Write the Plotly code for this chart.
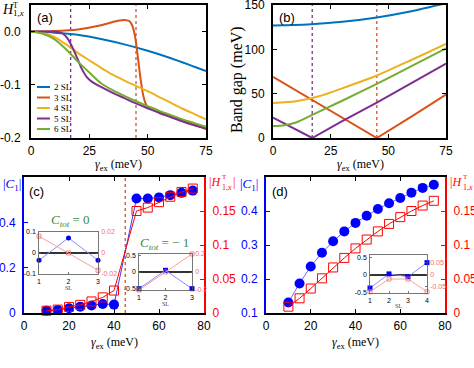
import plotly.graph_objects as go

W, H = 474, 368
def px(x): return x / W
def py(y): return 1 - y / H

SERIF = "Liberation Serif, Times New Roman, serif"
SANS = "Liberation Sans, Arial, sans-serif"

# ---------------- data ----------------
sl_names = ["2 SL", "3 SL", "4 SL", "5 SL", "6 SL"]
sl_colors = ["#0072BD", "#D95319", "#EDB120", "#7E2F8E", "#77AC30"]

# panel (a): H^T_{1,x} vs gamma_ex
a_x_2 = [0, 10, 20, 30, 40, 50, 60, 70, 75]
a_y_2 = [0, -0.002, -0.006, -0.014, -0.024, -0.036, -0.050, -0.066, -0.074]
a_x_3 = [0, 10, 20, 30, 35, 38, 40, 42, 43, 44, 45, 46, 47, 48, 49, 50, 52, 55, 60, 65, 70, 75]
a_y_3 = [0, 0.001, 0.004, 0.012, 0.018, 0.021, 0.022, 0.020, 0.015, 0.003, -0.020, -0.055,
         -0.090, -0.118, -0.134, -0.142, -0.147, -0.151, -0.159, -0.167, -0.175, -0.183]
a_x_4 = [0, 5, 10, 15, 20, 25, 30, 35, 40, 45, 50, 55, 60, 65, 70, 75]
a_y_4 = [0, -0.002, -0.010, -0.024, -0.040, -0.054, -0.068, -0.081, -0.092, -0.102,
         -0.112, -0.123, -0.134, -0.145, -0.155, -0.165]
a_x_5 = [0, 10, 12, 14, 16, 18, 20, 22, 24, 26, 30, 35, 40, 45, 50, 55, 60, 65, 70, 75]
a_y_5 = [0, 0, -0.001, -0.005, -0.015, -0.032, -0.052, -0.072, -0.086, -0.094, -0.104,
         -0.115, -0.125, -0.135, -0.144, -0.153, -0.161, -0.169, -0.176, -0.182]
a_x_6 = [0, 5, 10, 15, 20, 25, 30, 35, 40, 45, 50, 55, 60, 65, 70, 75]
a_y_6 = [0, -0.004, -0.014, -0.033, -0.056, -0.077, -0.097, -0.110, -0.121, -0.131,
         -0.140, -0.149, -0.157, -0.165, -0.172, -0.179]
a_xs = [a_x_2, a_x_3, a_x_4, a_x_5, a_x_6]
a_ys = [a_y_2, a_y_3, a_y_4, a_y_5, a_y_6]

# panel (b): band gap (meV)
b_x_2 = [0, 15, 30, 45, 60, 75]
b_y_2 = [127, 128, 131, 136, 143, 152]
b_x_3 = [0, 15, 30, 45, 60, 75]
b_y_3 = [69, 46, 23, 0, 24, 49]
b_x_4 = [0, 10, 20, 30, 45, 60, 75]
b_y_4 = [39.5, 41.5, 47, 56, 70.5, 88, 106]
b_x_5 = [0, 17, 30, 45, 60, 75]
b_y_5 = [23, 0, 19, 40, 62, 84]
b_x_6 = [0, 5, 10, 17, 25, 30, 45, 60, 75]
b_y_6 = [13.5, 14.5, 17.5, 26, 36, 42, 61, 81, 101]
b_xs = [b_x_2, b_x_3, b_x_4, b_x_5, b_x_6]
b_ys = [b_y_2, b_y_3, b_y_4, b_y_5, b_y_6]
b_shapes = ["spline", "linear", "spline", "linear", "spline"]

# transition lines (meV)
trans_x = [17, 45]
trans_colors = ["#7E2F8E", "#D95319"]

# panel (c): 3 SL
c_x = [10, 15, 20, 25, 30, 35, 40, 50, 55, 60, 65, 70, 75]
c_C = [0.010, 0.013, 0.021, 0.028, 0.033, 0.040, 0.037, 0.505, 0.505, 0.510, 0.520, 0.530, 0.540]
c_H = [0.0034, 0.005, 0.009, 0.012, 0.017, 0.023, 0.033, 0.150, 0.155, 0.163, 0.171, 0.178, 0.183]

# panel (d): 4 SL
d_x = [10, 15, 20, 25, 30, 35, 40, 45, 50, 55, 60, 65, 70, 75]
d_C = [0.131, 0.187, 0.237, 0.277, 0.311, 0.340, 0.365, 0.386, 0.406, 0.423, 0.438, 0.454, 0.468, 0.477]
d_H = [0.0093, 0.0216, 0.036, 0.051, 0.067, 0.081, 0.095, 0.108, 0.120, 0.131, 0.141, 0.150, 0.158, 0.165]

# insets
i1_sl = [1, 2, 3]
i1_C = [-0.035, 0.072, -0.035]
i1_H = [0.016, 0.0, -0.0165]
i2_sl = [1, 2, 3]
i2_C = [-0.50, 0.05, -0.50]
i2_H = [-0.20, 0.0, 0.20]
i3_sl = [1, 2, 3, 4]
i3_C = [-0.37, 0.03, -0.05, 0.35]
i3_H = [-0.070, -0.018, -0.018, -0.070]

BLUE = "#0000ff"
RED = "#ff0000"
PINK = "#f07070"
GREEN = "#3a8a3a"

fig = go.Figure()

# ---- (a)
for name, xs, ys, col in zip(sl_names, a_xs, a_ys, sl_colors):
    fig.add_trace(go.Scatter(x=xs, y=ys, mode="lines", name=name,
                             line=dict(color=col, width=2, shape="spline", smoothing=0.7),
                             xaxis="x", yaxis="y", showlegend=False))
# ---- (b)
for name, xs, ys, col, sh in zip(sl_names, b_xs, b_ys, sl_colors, b_shapes):
    fig.add_trace(go.Scatter(x=xs, y=ys, mode="lines", name=name,
                             line=dict(color=col, width=2, shape=sh, smoothing=0.7),
                             xaxis="x2", yaxis="y2", showlegend=False))
# ---- (c)
fig.add_trace(go.Scatter(x=c_x, y=c_C, mode="lines+markers", xaxis="x3", yaxis="y3",
                         line=dict(color="#3a3aff", width=1),
                         marker=dict(color=BLUE, size=10, symbol="circle"),
                         showlegend=False, cliponaxis=False))
fig.add_trace(go.Scatter(x=c_x, y=c_H, mode="lines+markers", xaxis="x3", yaxis="y4",
                         line=dict(color=RED, width=1),
                         marker=dict(color=RED, size=9, symbol="square-open",
                                     line=dict(color=RED, width=1)),
                         showlegend=False, cliponaxis=False))
# ---- (d)
fig.add_trace(go.Scatter(x=d_x, y=d_C, mode="lines+markers", xaxis="x4", yaxis="y5",
                         line=dict(color="#6a6aff", width=1),
                         marker=dict(color=BLUE, size=10, symbol="circle"),
                         showlegend=False, cliponaxis=False))
fig.add_trace(go.Scatter(x=d_x, y=d_H, mode="lines+markers", xaxis="x4", yaxis="y6",
                         line=dict(color=RED, width=1),
                         marker=dict(color=RED, size=9, symbol="square-open",
                                     line=dict(color=RED, width=1)),
                         showlegend=False, cliponaxis=False))

# ---- insets
def inset(xa, ya_l, ya_r, sl, C, Hh, bsym):
    fig.add_trace(go.Scatter(x=sl, y=C, mode="lines+markers", xaxis=xa, yaxis=ya_l,
                             line=dict(color="#8c8cff", width=1),
                             marker=dict(color=BLUE, size=5, symbol=bsym),
                             showlegend=False, cliponaxis=False))
    fig.add_trace(go.Scatter(x=sl, y=Hh, mode="lines+markers", xaxis=xa, yaxis=ya_r,
                             line=dict(color="#f4a0a0", width=1),
                             marker=dict(color=PINK, size=4, symbol="square-open",
                                         line=dict(color=PINK, width=0.8)),
                             showlegend=False, cliponaxis=False))

inset("x5", "y7", "y8", i1_sl, i1_C, i1_H, "circle")
inset("x6", "y9", "y10", i2_sl, i2_C, i2_H, "square")
inset("x7", "y11", "y12", i3_sl, i3_C, i3_H, "square")

# ---------------- axes ----------------
def main_axis(**kw):
    d = dict(showgrid=False, zeroline=False, ticks="inside", ticklen=4, tickwidth=1,
             showline=True, linewidth=2, linecolor="black", tickcolor="black", automargin=False,
             ticklabeloverflow="allow",
             tickfont=dict(family=SANS, size=12, color="black"))
    d.update(kw)
    return d

def inset_axis(**kw):
    d = dict(showgrid=False, zeroline=False, ticks="inside", ticklen=2, tickwidth=0.8,
             showline=True, linewidth=0.8, linecolor="#555", tickcolor="#555", automargin=False,
             ticklabeloverflow="allow",
             tickfont=dict(family=SANS, size=7, color="black"), ticklabelstandoff=1)
    d.update(kw)
    return d

lay = dict(
    xaxis=main_axis(domain=[px(31), px(206)], anchor="y", range=[0, 75], tickvals=[0, 25, 50, 75],
                    mirror="ticks", ticklabelstandoff=1),
    yaxis=main_axis(domain=[py(138), py(5)], anchor="x", range=[-0.2, 0.05],
                    tickvals=[-0.2, -0.1, 0], ticktext=["-0.2", "-0.1", "0.0"], mirror="ticks",
                    ticklabelstandoff=6),
    xaxis2=main_axis(domain=[px(273), px(446)], anchor="y2", range=[0, 75], tickvals=[0, 25, 50, 75],
                     mirror="ticks", ticklabelstandoff=1),
    yaxis2=main_axis(domain=[py(138), py(5)], anchor="x2", range=[0, 150],
                     tickvals=[0, 50, 100, 150], mirror="ticks", ticklabelstandoff=4),
    xaxis3=main_axis(domain=[px(24), px(204)], anchor="y3", range=[0, 80],
                     tickvals=[0, 20, 40, 60, 80], mirror="ticks", ticklabelstandoff=1),
    yaxis3=main_axis(domain=[py(313), py(177)], anchor="x3", range=[0, 0.6],
                     tickvals=[0, 0.2, 0.4], ticktext=["0", "0.2", "0.4"],
                     linecolor=BLUE, tickcolor=BLUE,
                     tickfont=dict(family=SANS, size=12, color=BLUE), ticklabelstandoff=4),
    yaxis4=main_axis(overlaying="y3", side="right", anchor="x3", range=[0, 0.2],
                     tickvals=[0, 0.05, 0.1, 0.15], ticktext=["0", "0.05", "0.1", "0.15"],
                     linecolor=RED, tickcolor=RED,
                     tickfont=dict(family=SANS, size=12, color=RED), ticklabelstandoff=4),
    xaxis4=main_axis(domain=[px(266), px(445)], anchor="y5", range=[0, 80],
                     tickvals=[0, 20, 40, 60, 80], mirror="ticks", ticklabelstandoff=1),
    yaxis5=main_axis(domain=[py(313), py(177)], anchor="x4", range=[0.1, 0.5],
                     tickvals=[0.1, 0.2, 0.3, 0.4], linecolor=BLUE, tickcolor=BLUE,
                     tickfont=dict(family=SANS, size=12, color=BLUE), ticklabelstandoff=4),
    yaxis6=main_axis(overlaying="y5", side="right", anchor="x4", range=[0, 0.2],
                     tickvals=[0, 0.05, 0.1, 0.15], ticktext=["0", "0.05", "0.1", "0.15"],
                     linecolor=RED, tickcolor=RED,
                     tickfont=dict(family=SANS, size=12, color=RED), ticklabelstandoff=4),
    # inset c1
    xaxis5=inset_axis(domain=[px(39), px(98)], anchor="y7", range=[1, 3], tickvals=[1, 2, 3],
                      mirror=True, title=dict(text="SL", font=dict(family=SERIF, size=6), standoff=0)),
    yaxis7=inset_axis(domain=[py(274), py(232)], anchor="x5", range=[-0.1, 0.1],
                      tickvals=[-0.1, 0, 0.1], ticktext=["-0.1", "0", "0.1"],
                      zeroline=True, zerolinecolor="#333", zerolinewidth=1.5),
    yaxis8=inset_axis(overlaying="y7", side="right", anchor="x5", range=[-0.02, 0.02],
                      tickvals=[-0.02, 0, 0.02], ticktext=["-0.02", "0", "0.02"],
                      tickfont=dict(family=SANS, size=7, color=PINK)),
    # inset c2
    xaxis6=inset_axis(domain=[px(139), px(192)], anchor="y9", range=[1, 3], tickvals=[1, 2, 3],
                      mirror=True, title=dict(text="SL", font=dict(family=SERIF, size=6), standoff=0)),
    yaxis9=inset_axis(domain=[py(290), py(254)], anchor="x6", range=[-0.54, 0.54],
                      tickvals=[-0.5, 0, 0.5], ticktext=["-0.5", "0", "0.5"],
                      zeroline=True, zerolinecolor="#333", zerolinewidth=1.5),
    yaxis10=inset_axis(overlaying="y9", side="right", anchor="x6", range=[-0.2, 0.2],
                       tickvals=[-0.2, 0, 0.2], ticktext=["-0.2", "0", "0.2"],
                       tickfont=dict(family=SANS, size=7, color=PINK)),
    # inset d
    xaxis7=inset_axis(domain=[px(370), px(427)], anchor="y11", range=[1, 4], tickvals=[1, 2, 3, 4],
                      mirror=True, title=dict(text="SL", font=dict(family=SERIF, size=6), standoff=0)),
    yaxis11=inset_axis(domain=[py(293), py(255)], anchor="x7", range=[-0.51, 0.565],
                       tickvals=[-0.5, 0, 0.5], ticktext=["-0.5", "0", "0.5"],
                       zeroline=True, zerolinecolor="#333", zerolinewidth=1.5),
    yaxis12=inset_axis(overlaying="y11", side="right", anchor="x7", range=[-0.075, 0.08],
                       tickvals=[-0.05, 0, 0.05], ticktext=["-0.05", "0", "0.05"],
                       tickfont=dict(family=SANS, size=7, color=PINK)),
)
fig.update_layout(**lay)

# ---------------- shapes (transition lines, legend) ----------------
shapes = []
for xa, ya in [("x", "y"), ("x2", "y2")]:
    for xv, col in zip(trans_x, trans_colors):
        shapes.append(dict(type="line", xref=xa, yref=ya + " domain", x0=xv, x1=xv, y0=0, y1=1,
                           line=dict(color=col, width=1.3, dash="dot"), layer="below"))
shapes.append(dict(type="line", xref="x3", yref="y3 domain", x0=trans_x[1], x1=trans_x[1], y0=0, y1=1,
                   line=dict(color=trans_colors[1], width=1.3, dash="dot"), layer="below"))

annotations = []
# custom legend in (a)
for i, (name, col) in enumerate(zip(sl_names, sl_colors)):
    yy = py(87 + 10.5 * i)
    shapes.append(dict(type="line", xref="paper", yref="paper", x0=px(37), x1=px(50), y0=yy, y1=yy,
                       line=dict(color=col, width=2)))
    annotations.append(dict(xref="paper", yref="paper", x=px(52), y=yy, text=name, showarrow=False,
                            xanchor="left", yanchor="middle",
                            font=dict(family=SERIF, size=9, color="black")))
fig.update_layout(shapes=shapes)

def ann(x, y, text, size=12, color="black", family=SERIF, xanchor="center", textangle=0):
    annotations.append(dict(xref="paper", yref="paper", x=px(x), y=py(y), text=text, showarrow=False,
                            xanchor=xanchor, yanchor="middle", textangle=textangle,
                            font=dict(family=family, size=size, color=color)))

# panel labels
ann(35, 17, "(a)", 13, family=SANS, xanchor="left")
ann(277, 17, "(b)", 13, family=SANS, xanchor="left")
ann(27, 191, "(c)", 13, family=SANS, xanchor="left")
ann(270, 191, "(d)", 13, family=SANS, xanchor="left")

# axis titles
xt = "<i>γ</i><sub>ex</sub> (meV)"
ann(118, 165, xt, 12)
ann(360, 165, xt, 12)
ann(114, 343, xt, 12)
ann(355, 343, xt, 12)
ann(237, 80, "Band gap (meV)", 16, textangle=-90)

# H^T_{1,x} label for (a)
ann(0, 9, "<i>H</i>", 14, xanchor="left")
ann(11, 5, "T", 8, xanchor="left")
ann(11, 13, "1,<i>x</i>", 9, xanchor="left")

# |C1| labels
ann(1, 184, "|<i>C</i><sub>1</sub>|", 13, color=BLUE, xanchor="left")
ann(238, 184, "|<i>C</i><sub>1</sub>|", 13, color=BLUE, xanchor="left")
# |H^T_{1,x}| labels
for x0 in (207, 448):
    ann(x0, 182, "|<i>H</i>", 12, color=RED, xanchor="left")
    ann(x0 + 13, 177, "T", 7, color=RED, xanchor="left")
    ann(x0 + 13, 187, "1,<i>x</i>", 8, color=RED, xanchor="left")
    ann(x0 + 24, 182, "|", 12, color=RED, xanchor="left")

# inset titles
ann(70, 221, "<i>C</i><sub><i>tot</i></sub> = 0", 13, color=GREEN)
ann(164, 243, "<i>C</i><sub><i>tot</i></sub> = − 1", 13, color=GREEN)

fig.update_layout(annotations=annotations,
                  width=W, height=H, autosize=False,
                  margin=dict(l=0, r=0, t=0, b=0),
                  paper_bgcolor="white", plot_bgcolor="rgba(0,0,0,0)",
                  showlegend=False)

fig.write_html("out.html", config={"displayModeBar": False, "staticPlot": True},
               post_script="document.body.style.margin='0px';document.body.style.overflow='hidden';")
